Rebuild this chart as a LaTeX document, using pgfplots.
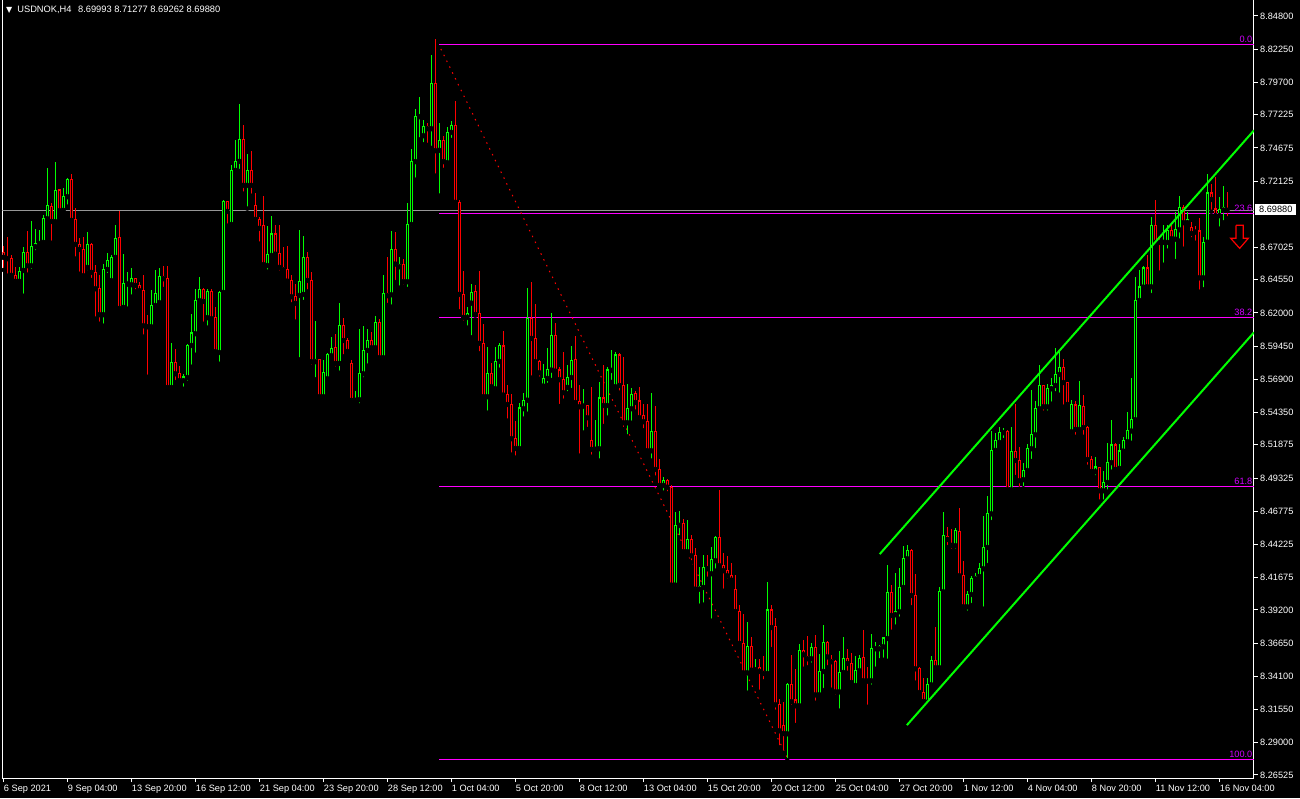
\documentclass[border=0pt]{standalone}
\usepackage{pgfplots}
\usepackage{pgfplotstable}
\pgfplotsset{compat=1.18}
\usepackage{fontspec}
\setmainfont{Liberation Sans}
\newfontfamily\dejavu{DejaVu Sans}

\definecolor{mtgreen}{RGB}{0,255,0}
\definecolor{mtred}{RGB}{255,0,0}
\definecolor{fibline}{RGB}{255,0,255}
\definecolor{fibtext}{RGB}{210,0,255}
\definecolor{bidline}{RGB}{150,150,150}

% H4 candles, bar index i, open high low close
\pgfplotstableread{
i o h l c
4 8.6443 8.6555 8.6432 8.6517
5 8.6527 8.6706 8.6332 8.6665
7 8.6563 8.6906 8.6522 8.6711
8 8.6709 8.6844 8.6665 8.6734
9 8.6732 8.6837 8.6717 8.6742
10 8.6742 8.6949 8.6739 8.6926
11 8.6924 8.7313 8.6906 8.7026
13 8.6901 8.7359 8.6898 8.7141
15 8.6988 8.7159 8.6985 8.7095
16 8.7093 8.7236 8.7016 8.7226
21 8.6550 8.6821 8.6512 8.6727
25 8.6187 8.6576 8.6102 8.6535
26 8.6535 8.6660 8.6491 8.6604
27 8.6448 8.6647 8.6432 8.6627
28 8.6627 8.6875 8.6609 8.6773
30 8.6243 8.6655 8.6240 8.6427
31 8.6422 8.6514 8.6233 8.6430
32 8.6417 8.6545 8.6325 8.6466
37 8.6094 8.6376 8.6092 8.6258
38 8.6258 8.6530 8.6233 8.6350
39 8.6279 8.6545 8.6271 8.6481
42 8.5628 8.5969 8.5611 8.5820
45 8.5680 8.5728 8.5618 8.5708
46 8.5705 8.5961 8.5664 8.5951
47 8.5951 8.6192 8.5787 8.6046
48 8.6041 8.6384 8.5879 8.6297
49 8.6294 8.6476 8.6281 8.6381
51 8.6164 8.6381 8.6087 8.6366
54 8.5897 8.6366 8.5810 8.6358
55 8.6358 8.7067 8.6325 8.7057
57 8.6880 8.7339 8.6862 8.7295
58 8.7295 8.7528 8.7290 8.7364
59 8.7364 8.7804 8.7290 8.7528
61 8.7180 8.7420 8.7001 8.7290
66 8.6565 8.6865 8.6517 8.6650
67 8.6642 8.6944 8.6609 8.6806
74 8.6335 8.6837 8.5844 8.6443
75 8.6343 8.6791 8.6284 8.6629
78 8.5826 8.6138 8.5690 8.5844
80 8.5557 8.5838 8.5549 8.5744
81 8.5695 8.5892 8.5669 8.5882
82 8.5872 8.6015 8.5854 8.5928
84 8.5813 8.6276 8.5741 8.6105
88 8.5529 8.5600 8.5513 8.5536
89 8.5534 8.6077 8.5490 8.5736
90 8.5733 8.6100 8.5690 8.5913
91 8.5913 8.6077 8.5795 8.5987
93 8.5933 8.6176 8.5928 8.6128
95 8.5856 8.6491 8.5851 8.6350
97 8.6340 8.6829 8.6248 8.6688
99 8.6555 8.6629 8.6394 8.6573
101 8.6440 8.7047 8.6384 8.6880
102 8.6880 8.7456 8.6844 8.7364
103 8.7362 8.7766 8.7223 8.7710
104 8.7707 8.7858 8.7533 8.7712
105 8.7561 8.7682 8.7495 8.7633
107 8.7615 8.8181 8.7467 8.7963
109 8.7449 8.7659 8.7101 8.7526
111 8.7354 8.7628 8.7339 8.7587
112 8.7587 8.7677 8.7528 8.7638
116 8.6166 8.6246 8.6087 8.6194
117 8.6276 8.6422 8.6013 8.6358
121 8.5557 8.5938 8.5434 8.5736
123 8.5618 8.5936 8.5596 8.5828
124 8.5828 8.5967 8.5764 8.5951
129 8.5160 8.5508 8.5155 8.5470
130 8.5465 8.5585 8.5388 8.5531
131 8.5531 8.6394 8.5426 8.6159
135 8.5639 8.5808 8.5626 8.5698
136 8.5698 8.5931 8.5647 8.5764
137 8.5762 8.6197 8.5685 8.6028
141 8.5629 8.5798 8.5583 8.5705
142 8.5705 8.5946 8.5608 8.5836
145 8.5485 8.5616 8.5281 8.5490
148 8.5153 8.5378 8.5119 8.5160
149 8.5158 8.5667 8.5066 8.5547
151 8.5490 8.5787 8.5396 8.5762
152 8.5759 8.5915 8.5670 8.5767
153 8.5634 8.5900 8.5631 8.5877
156 8.5357 8.5652 8.5252 8.5467
157 8.5465 8.5624 8.5357 8.5575
162 8.5142 8.5585 8.5066 8.5293
165 8.4876 8.4940 8.4820 8.4917
168 8.4111 8.4671 8.4098 8.4569
169 8.4569 8.4676 8.4477 8.4584
171 8.4367 8.4607 8.4354 8.4461
174 8.4080 8.4249 8.3952 8.4103
175 8.4093 8.4341 8.3960 8.4249
177 8.4198 8.4402 8.3837 8.4308
178 8.4298 8.4487 8.4221 8.4479
186 8.3437 8.3826 8.3284 8.3642
188 8.3460 8.3542 8.3430 8.3473
191 8.3432 8.4134 8.3427 8.3919
196 8.2969 8.3361 8.2767 8.3350
199 8.3184 8.3657 8.3176 8.3611
202 8.3545 8.3668 8.3499 8.3634
204 8.3268 8.3583 8.3261 8.3450
205 8.3448 8.3806 8.3304 8.3673
209 8.3291 8.3604 8.3146 8.3442
210 8.3440 8.3711 8.3435 8.3547
213 8.3340 8.3563 8.3337 8.3455
214 8.3453 8.3573 8.3422 8.3547
217 8.3376 8.3737 8.3330 8.3624
218 8.3622 8.3673 8.3468 8.3627
219 8.3622 8.3647 8.3532 8.3640
220 8.3637 8.3714 8.3537 8.3704
221 8.3701 8.4264 8.3529 8.4054
223 8.3883 8.4203 8.3791 8.3911
224 8.3906 8.4244 8.3852 8.4095
225 8.4093 8.4410 8.4082 8.4315
226 8.4313 8.4415 8.4292 8.4377
231 8.3212 8.3399 8.3207 8.3348
232 8.3345 8.3565 8.3340 8.3532
234 8.3476 8.4095 8.3471 8.4062
235 8.4059 8.4671 8.4057 8.4492
238 8.4413 8.4548 8.4374 8.4533
241 8.3944 8.4067 8.3898 8.4039
242 8.4039 8.4182 8.3957 8.4164
243 8.4159 8.4203 8.4131 8.4177
244 8.4177 8.4277 8.4154 8.4239
245 8.4236 8.4640 8.3929 8.4400
246 8.4400 8.4797 8.4264 8.4661
247 8.4658 8.5296 8.4594 8.5145
248 8.5145 8.5275 8.5109 8.5222
249 8.5206 8.5321 8.5186 8.5283
250 8.5281 8.5319 8.5224 8.5293
252 8.4843 8.5324 8.4840 8.5137
255 8.4920 8.5050 8.4853 8.4991
256 8.4991 8.5191 8.4973 8.5160
257 8.5158 8.5611 8.5063 8.5268
258 8.5265 8.5524 8.5147 8.5467
259 8.5465 8.5803 8.5462 8.5644
261 8.5480 8.5654 8.5434 8.5621
262 8.5618 8.5700 8.5503 8.5644
263 8.5643 8.5928 8.5582 8.5728
264 8.5728 8.5905 8.5572 8.5784
267 8.5288 8.5531 8.5254 8.5498
269 8.5306 8.5679 8.5275 8.5487
273 8.4981 8.5091 8.4938 8.5017
275 8.4835 8.4987 8.4751 8.4899
276 8.4899 8.5199 8.4828 8.5053
277 8.5051 8.5378 8.4981 8.5186
279 8.5007 8.5191 8.4999 8.5140
280 8.5140 8.5250 8.5122 8.5217
281 8.5212 8.5442 8.5194 8.5294
282 8.5294 8.5697 8.5203 8.5383
283 8.5380 8.6478 8.5370 8.6296
284 8.6296 8.6529 8.6291 8.6399
285 8.6399 8.6560 8.6376 8.6545
287 8.6401 8.6939 8.6337 8.6872
290 8.6742 8.6872 8.6570 8.6747
291 8.6742 8.6872 8.6678 8.6836
293 8.6767 8.6977 8.6598 8.6842
294 8.6839 8.7098 8.6755 8.7008
296 8.6893 8.6977 8.6870 8.6921
300 8.6470 8.6785 8.6381 8.6744
301 8.6744 8.7267 8.6721 8.7121
304 8.6947 8.7092 8.6847 8.6995
305 8.6990 8.7174 8.6895 8.7008
}\upbars

\pgfplotstableread{
i o h l c
0 8.6663 8.6714 8.6530 8.6627
1 8.6627 8.6783 8.6486 8.6617
2 8.6619 8.6645 8.6463 8.6489
3 8.6486 8.6550 8.6440 8.6443
6 8.6665 8.6829 8.6494 8.6563
12 8.7019 8.7042 8.6739 8.6903
14 8.7144 8.7152 8.6978 8.6985
17 8.7226 8.7267 8.6908 8.6911
18 8.6919 8.7003 8.6617 8.6727
19 8.6727 8.6775 8.6501 8.6688
20 8.6688 8.6783 8.6478 8.6486
22 8.6727 8.6734 8.6453 8.6512
23 8.6512 8.6568 8.6156 8.6386
24 8.6389 8.6491 8.6117 8.6187
29 8.6780 8.6983 8.6233 8.6235
33 8.6466 8.6466 8.6366 8.6412
34 8.6412 8.6435 8.6340 8.6371
35 8.6373 8.6491 8.6018 8.6102
36 8.6105 8.6184 8.5710 8.6094
40 8.6481 8.6560 8.6384 8.6463
41 8.6466 8.6560 8.5595 8.5628
43 8.5820 8.5923 8.5669 8.5733
44 8.5733 8.5792 8.5659 8.5680
50 8.6381 8.6391 8.6117 8.6289
52 8.6361 8.6381 8.6141 8.6156
53 8.6166 8.6243 8.5890 8.5902
56 8.7054 8.7057 8.6870 8.6980
60 8.7528 8.7643 8.7116 8.7180
62 8.7290 8.7444 8.7100 8.7180
63 8.7026 8.7121 8.6906 8.6919
64 8.6919 8.6939 8.6732 8.6850
65 8.6875 8.7098 8.6565 8.6571
68 8.6806 8.6875 8.6622 8.6652
69 8.6658 8.6875 8.6509 8.6550
70 8.6550 8.6709 8.6512 8.6532
71 8.6535 8.6717 8.6440 8.6445
72 8.6450 8.6489 8.6266 8.6325
73 8.6325 8.6420 8.6133 8.6274
76 8.6629 8.6668 8.6366 8.6450
77 8.6450 8.6514 8.5787 8.5826
79 8.5844 8.5849 8.5541 8.5557
83 8.5931 8.6038 8.5772 8.5813
85 8.6105 8.6161 8.5867 8.5989
86 8.5989 8.6007 8.5890 8.5905
87 8.5813 8.5838 8.5526 8.5529
92 8.5989 8.6053 8.5918 8.5933
94 8.6128 8.6153 8.5841 8.5856
96 8.6350 8.6632 8.6261 8.6333
98 8.6688 8.6821 8.6437 8.6576
100 8.6573 8.6612 8.6402 8.6440
106 8.7633 8.7656 8.7490 8.7615
108 8.7963 8.8304 8.7254 8.7446
110 8.7526 8.7559 8.7298 8.7362
113 8.7638 8.7830 8.7047 8.7050
114 8.7050 8.7067 8.6212 8.6343
115 8.6343 8.6522 8.6125 8.6166
118 8.6363 8.6412 8.6179 8.6189
119 8.6194 8.6522 8.5890 8.5967
120 8.5967 8.6115 8.5534 8.5557
122 8.5736 8.5816 8.5611 8.5634
125 8.5946 8.6061 8.5560 8.5570
126 8.5575 8.5647 8.5373 8.5498
127 8.5498 8.5575 8.5112 8.5235
128 8.5237 8.5370 8.5089 8.5160
132 8.6156 8.6438 8.5703 8.6005
133 8.6005 8.6269 8.5821 8.5826
134 8.5826 8.5839 8.5695 8.5741
138 8.6028 8.6120 8.5739 8.5754
139 8.5762 8.5787 8.5485 8.5688
140 8.5690 8.5900 8.5526 8.5588
143 8.5844 8.6023 8.5506 8.5513
144 8.5519 8.5649 8.5104 8.5480
146 8.5490 8.5493 8.5309 8.5396
147 8.5224 8.5631 8.5096 8.5153
150 8.5547 8.5803 8.5332 8.5490
154 8.5877 8.5890 8.5588 8.5644
155 8.5644 8.5864 8.5309 8.5357
158 8.5583 8.5601 8.5442 8.5513
159 8.5524 8.5631 8.5370 8.5396
160 8.5409 8.5501 8.5298 8.5365
161 8.5370 8.5501 8.5109 8.5142
163 8.5293 8.5485 8.4935 8.4999
164 8.4999 8.5078 8.4866 8.4876
166 8.4917 8.4925 8.4815 8.4863
167 8.4863 8.4879 8.4077 8.4111
170 8.4584 8.4615 8.4351 8.4367
172 8.4461 8.4495 8.4285 8.4336
173 8.4338 8.4392 8.4052 8.4080
176 8.4249 8.4338 8.4159 8.4236
179 8.4479 8.4840 8.4254 8.4259
180 8.4264 8.4359 8.4067 8.4221
181 8.4221 8.4333 8.4144 8.4182
182 8.4185 8.4282 8.4121 8.4149
183 8.4080 8.4185 8.3883 8.3908
184 8.3908 8.3957 8.3637 8.3663
185 8.3663 8.3888 8.3419 8.3437
187 8.3642 8.3711 8.3440 8.3458
189 8.3476 8.3540 8.3291 8.3448
190 8.3450 8.3565 8.3371 8.3432
192 8.3919 8.3957 8.3619 8.3785
193 8.3796 8.3860 8.3138 8.3192
194 8.3197 8.3235 8.2864 8.2992
195 8.3033 8.3212 8.2823 8.2971
197 8.3350 8.3573 8.3174 8.3215
198 8.3228 8.3465 8.3036 8.3184
200 8.3609 8.3688 8.3468 8.3576
201 8.3565 8.3721 8.3478 8.3545
203 8.3634 8.3727 8.3207 8.3268
206 8.3673 8.3678 8.3478 8.3560
207 8.3540 8.3573 8.3307 8.3522
208 8.3527 8.3535 8.3253 8.3291
211 8.3547 8.3619 8.3437 8.3509
212 8.3512 8.3588 8.3337 8.3363
215 8.3555 8.3765 8.3368 8.3376
216 8.3381 8.3483 8.3176 8.3373
222 8.4054 8.4111 8.3752 8.3878
227 8.4377 8.4385 8.3939 8.4031
228 8.4031 8.4195 8.3361 8.3468
229 8.3471 8.3478 8.3281 8.3286
230 8.3286 8.3394 8.3184 8.3217
233 8.3532 8.3791 8.3450 8.3476
236 8.4484 8.4556 8.4402 8.4461
237 8.4423 8.4538 8.4374 8.4415
239 8.4523 8.4702 8.4167 8.4182
240 8.4185 8.4298 8.3911 8.3944
251 8.5293 8.5301 8.4827 8.4843
253 8.5137 8.5501 8.4940 8.5068
254 8.5068 8.5170 8.4850 8.4912
260 8.5644 8.5647 8.5434 8.5480
265 8.5784 8.5843 8.5480 8.5666
266 8.5666 8.5672 8.5467 8.5498
268 8.5493 8.5526 8.5249 8.5306
270 8.5482 8.5567 8.5249 8.5321
271 8.5323 8.5331 8.5019 8.5075
272 8.5075 8.5101 8.4973 8.4983
274 8.5015 8.5020 8.4751 8.4835
278 8.5186 8.5199 8.4994 8.4999
286 8.6545 8.6642 8.6376 8.6401
288 8.6872 8.7067 8.6719 8.6742
289 8.6752 8.6778 8.6509 8.6742
292 8.6836 8.6880 8.6760 8.6770
295 8.7008 8.7026 8.6693 8.6893
297 8.6857 8.6898 8.6765 8.6811
298 8.6829 8.6870 8.6739 8.6821
299 8.6829 8.6926 8.6363 8.6470
302 8.7121 8.7190 8.6977 8.7072
303 8.6998 8.7241 8.6923 8.6947
306 8.69993 8.71277 8.69262 8.69880
}\downbars

\begin{document}
\begin{tikzpicture}
\fill[black] (-2.5pt,-20pt) rectangle (1297.5pt,778pt);
\begin{axis}[
  at={(0pt,0pt)}, anchor=south west,
  scale only axis, width=1251.5pt, height=778.5pt,
  xmin=-0.2, xmax=312.675, ymin=8.26292, ymax=8.86066,
  clip mode=individual,
  axis line style={white, line width=1pt},
  xtick={0,16,...,304},
  xticklabels={6 Sep 2021, 9 Sep 04:00, 13 Sep 20:00, 16 Sep 12:00, 21 Sep 04:00,
    23 Sep 20:00, 28 Sep 12:00, 1 Oct 04:00, 5 Oct 20:00, 8 Oct 12:00,
    13 Oct 04:00, 15 Oct 20:00, 20 Oct 12:00, 25 Oct 04:00, 27 Oct 20:00,
    1 Nov 12:00, 4 Nov 04:00, 8 Nov 20:00, 11 Nov 12:00, 16 Nov 04:00},
  ytick={8.848,8.8225,8.797,8.77225,8.74675,8.72125,8.67025,8.6455,8.62,
    8.5945,8.569,8.5435,8.51875,8.49325,8.46775,8.44225,8.41675,8.392,
    8.3665,8.341,8.3155,8.29,8.26525},
  yticklabels={8.84800,8.82250,8.79700,8.77225,8.74675,8.72125,8.67025,8.64550,8.62000,
    8.59450,8.56900,8.54350,8.51875,8.49325,8.46775,8.44225,8.41675,8.39200,
    8.36650,8.34100,8.31550,8.29000,8.26525},
  xtick pos=bottom, ytick pos=right, yticklabel pos=right,
  tick align=outside, major tick length=4pt,
  tick style={white, line width=1pt},
  every tick label/.append style={font=\fontsize{9.2}{10}\selectfont, text=white},
  xticklabel style={anchor=north west, inner sep=0pt, xshift=0.5pt, yshift=-3pt},
  yticklabel style={anchor=west, inner sep=0pt, xshift=2pt},
]
% bid line and fibonacci levels
\addplot[bidline, line width=1pt] coordinates {(-0.2,8.6988) (312.675,8.6988)};
\addplot[fibline, line width=1pt] coordinates {(109,8.8263) (312.675,8.8263)};
\addplot[fibline, line width=1pt] coordinates {(109,8.6967) (312.675,8.6967)};
\addplot[fibline, line width=1pt] coordinates {(109,8.6165) (312.675,8.6165)};
\addplot[fibline, line width=1pt] coordinates {(109,8.4870) (312.675,8.4870)};
\addplot[fibline, line width=1pt] coordinates {(109,8.2772) (312.675,8.2772)};
\addplot[mtred, line width=1pt, dash pattern=on 1.5pt off 5pt] coordinates {(109.4,8.8227) (195.9,8.2791)};

% wicks
\addplot[only marks, mark=none, error bars/.cd, y dir=plus, y explicit, error mark=none,
  error bar style={draw=mtgreen, line width=1pt, solid}]
  table[x=i, y=l, y error expr={\thisrow{h}-\thisrow{l}}] {\upbars};
\addplot[only marks, mark=none, error bars/.cd, y dir=plus, y explicit, error mark=none,
  error bar style={draw=mtred, line width=1pt, solid}]
  table[x=i, y=l, y error expr={\thisrow{h}-\thisrow{l}}] {\downbars};
% bodies: coloured outline, black inside
\addplot[only marks, mark=none, error bars/.cd, y dir=plus, y explicit, error mark=none,
  error bar style={draw=mtgreen, line width=3pt, solid}]
  table[x=i, y expr={\thisrow{o}-0.0004}, y error expr={\thisrow{c}-\thisrow{o}+0.0008}] {\upbars};
\addplot[only marks, mark=none, error bars/.cd, y dir=plus, y explicit, error mark=none,
  error bar style={draw=black, line width=1pt, solid}]
  table[x=i, y expr={\thisrow{o}+0.0004}, y error expr={max(\thisrow{c}-\thisrow{o}-0.0008,0)}] {\upbars};
\addplot[only marks, mark=none, error bars/.cd, y dir=plus, y explicit, error mark=none,
  error bar style={draw=mtred, line width=3pt, solid}]
  table[x=i, y expr={\thisrow{c}-0.0004}, y error expr={\thisrow{o}-\thisrow{c}+0.0008}] {\downbars};
\addplot[only marks, mark=none, error bars/.cd, y dir=plus, y explicit, error mark=none,
  error bar style={draw=black, line width=1pt, solid}]
  table[x=i, y expr={\thisrow{c}+0.0004}, y error expr={max(\thisrow{o}-\thisrow{c}-0.0008,0)}] {\downbars};

% channel
\addplot[mtgreen, line width=2pt] coordinates {(219.1,8.4348) (312.675,8.7602)};
\addplot[mtgreen, line width=2pt] coordinates {(225.9,8.3035) (312.675,8.6051)};
% sell arrow
\addplot[mtred, line width=1.2pt] coordinates {(308.2,8.6873) (308.2,8.6773) (306.85,8.6773)
  (309.1,8.6696) (311.25,8.6773) (310.0,8.6773) (310.0,8.6873) (308.2,8.6873)};

\node[anchor=south east, inner sep=1.5pt, text=fibtext, font=\fontsize{9.2}{10}\selectfont] at (axis cs:312.675,8.8263) {0.0};
\node[anchor=south east, inner sep=1.5pt, text=fibtext, font=\fontsize{9.2}{10}\selectfont] at (axis cs:312.675,8.6967) {23.6};
\node[anchor=south east, inner sep=1.5pt, text=fibtext, font=\fontsize{9.2}{10}\selectfont] at (axis cs:312.675,8.6165) {38.2};
\node[anchor=south east, inner sep=1.5pt, text=fibtext, font=\fontsize{9.2}{10}\selectfont] at (axis cs:312.675,8.4870) {61.8};
\node[anchor=south east, inner sep=1.5pt, text=fibtext, font=\fontsize{9.2}{10}\selectfont] at (axis cs:312.675,8.2772) {100.0};

\node[anchor=west, inner xsep=4pt, inner ysep=0pt, minimum height=11pt, fill=white, text=black,
  font=\fontsize{9.2}{10}\selectfont, xshift=1pt, yshift=0.8pt] at (axis cs:312.675,8.6988) {8.69880};

\node[anchor=west, inner sep=0pt, text=white, font=\fontsize{9.3}{10}\selectfont, xshift=3.5pt, yshift=-10.5pt]
  at (rel axis cs:0,1) {{\dejavu\fontsize{8}{9}\selectfont ▼}\hspace{5pt}USDNOK,H4\hspace{6.5pt}8.69993 8.71277 8.69262 8.69880};
\end{axis}
\pgfresetboundingbox
\path (-2.5pt,-20pt) rectangle (1297.5pt,778pt);
\end{tikzpicture}
\end{document}
